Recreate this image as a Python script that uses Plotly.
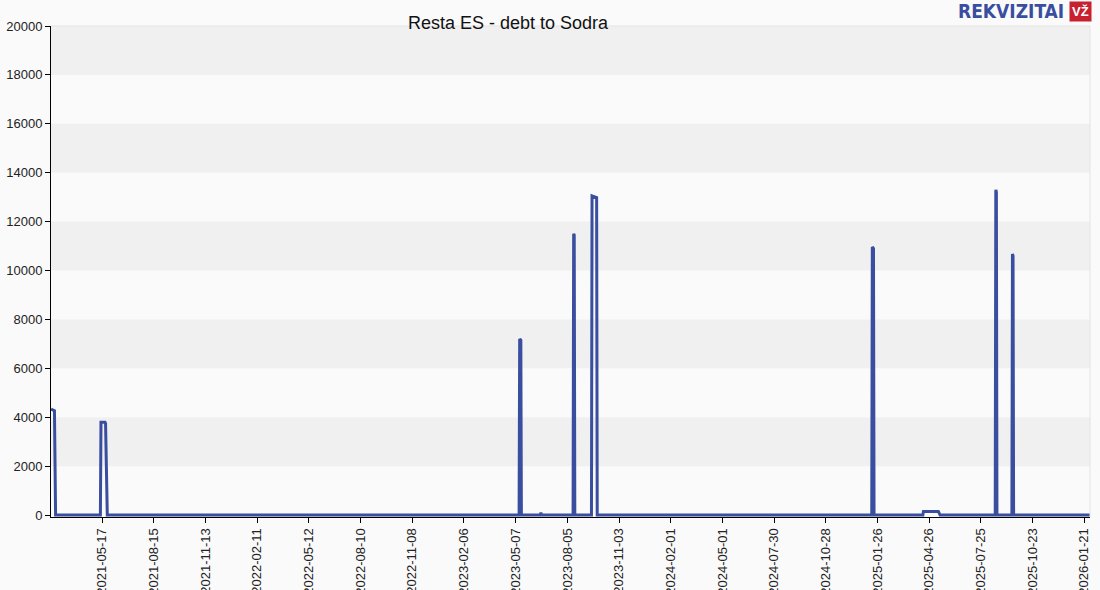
import plotly.graph_objects as go

# ---- data ----
dates = [
    "2021-02-17", "2021-02-23", "2021-02-25",
    "2021-05-14", "2021-05-15", "2021-05-22", "2021-05-23", "2021-05-26",
    "2023-05-13", "2023-05-14", "2023-05-16", "2023-05-17",
    "2023-06-19", "2023-06-20", "2023-06-21",
    "2023-08-15", "2023-08-16", "2023-08-17", "2023-08-18",
    "2023-09-16", "2023-09-17", "2023-09-25", "2023-09-26",
    "2025-01-16", "2025-01-17", "2025-01-19", "2025-01-20",
    "2025-04-15", "2025-04-16", "2025-05-12", "2025-05-15",
    "2025-08-19", "2025-08-20", "2025-08-21", "2025-08-22",
    "2025-09-17", "2025-09-18", "2025-09-19", "2025-09-20",
    "2026-01-31",
]
debt = [
    4330, 4270, 0,
    0, 3800, 3800, 3750, 0,
    0, 7200, 7150, 0,
    0, 100, 0,
    0, 11500, 11450, 0,
    0, 13050, 12980, 0,
    0, 10960, 10900, 0,
    0, 150, 150, 0,
    0, 13300, 13200, 0,
    0, 10680, 10600, 0,
    0,
]
x_ticks = [
    "2021-05-17", "2021-08-15", "2021-11-13", "2022-02-11", "2022-05-12",
    "2022-08-10", "2022-11-08", "2023-02-06", "2023-05-07", "2023-08-05",
    "2023-11-03", "2024-02-01", "2024-05-01", "2024-07-30", "2024-10-28",
    "2025-01-26", "2025-04-26", "2025-07-25", "2025-10-23", "2026-01-21",
]
y_ticks = list(range(0, 20001, 2000))
band_starts = [2000, 6000, 10000, 14000, 18000]

title = "Resta ES - debt to Sodra"
FONT = "Liberation Sans, Arial, sans-serif"
LINE_COLOR = "#3a4ea0"

fig = go.Figure()
fig.add_trace(go.Scatter(
    x=dates, y=debt, mode="lines",
    line=dict(color=LINE_COLOR, width=3),
    hoverinfo="x+y", showlegend=False,
))

shapes = []
for b in band_starts:
    shapes.append(dict(type="rect", xref="paper", yref="y", x0=0, x1=1,
                       y0=b, y1=b + 2000, fillcolor="#f0f0f0",
                       line=dict(width=0), layer="below"))
shapes.append(dict(type="line", xref="paper", yref="paper", x0=0, x1=1, y0=1, y1=1,
                   line=dict(color="#e4e4e4", width=1)))
shapes.append(dict(type="line", xref="paper", yref="paper", x0=1, x1=1, y0=0, y1=1,
                   line=dict(color="#e4e4e4", width=1)))

PH = 491  # plot height in px
fig.update_layout(
    width=1100, height=590,
    margin=dict(l=51, r=10, t=26, b=73, autoexpand=False),
    paper_bgcolor="#fafafa", plot_bgcolor="#fafafa",
    font=dict(family=FONT, size=13, color="#222"),
    title=dict(text=title, x=508 / 1100, xanchor="center", xref="container",
               y=1 - 23 / 590, yanchor="middle",
               font=dict(family=FONT, size=18, color="#111")),
    shapes=shapes,
    xaxis=dict(
        type="date", range=["2021-02-17", "2026-01-31"],
        tickvals=x_ticks, ticktext=x_ticks, tickangle=-90,
        showgrid=False, zeroline=False, automargin=False,
        showline=True, linecolor="#000", linewidth=1,
        ticks="outside", ticklen=5, tickcolor="#000",
        tickfont=dict(size=13, color="#222"),
    ),
    yaxis=dict(
        range=[-80, 20000], tickvals=y_ticks, tickformat="d",
        showgrid=False, zeroline=False, automargin=False,
        showline=True, linecolor="#000", linewidth=1,
        ticks="outside", ticklen=5, tickcolor="#000",
        tickfont=dict(size=13, color="#222"),
    ),
    annotations=[
        dict(text="<b>REKVIZITAI</b>", xref="paper", yref="paper",
             x=(1066 - 51) / (1090 - 51), y=1 + 15 / PH, xanchor="right", yanchor="middle",
             showarrow=False,
             font=dict(family="Liberation Sans Narrow, DejaVu Sans Condensed, Liberation Sans, sans-serif",
                       size=19, color=LINE_COLOR)),
        dict(text="<b>VŽ</b>", xref="paper", yref="paper",
             x=(1069 - 51) / (1090 - 51), y=1 + 15 / PH, xanchor="left", yanchor="middle",
             showarrow=False, bgcolor="#c8202f", borderpad=2,
             font=dict(family=FONT, size=13, color="#fff")),
    ],
)

fig.write_html("out.html", config={"displayModeBar": False},
               post_script="document.body.style.margin='0';document.body.style.overflow='hidden';")
